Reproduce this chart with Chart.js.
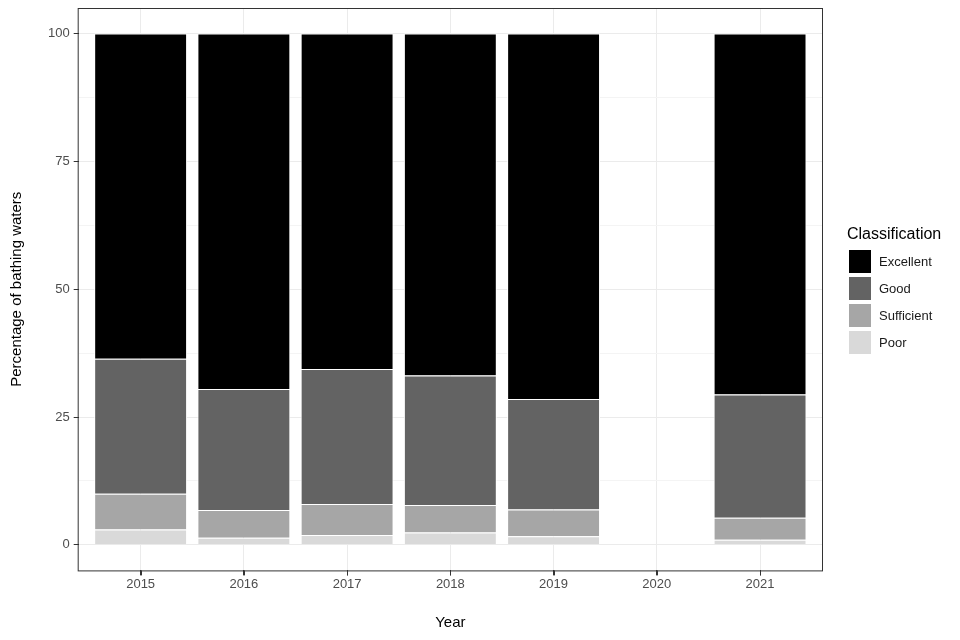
<!DOCTYPE html>
<html>
<head>
<meta charset="utf-8">
<script src="https://cdn.jsdelivr.net/npm/chart.js@4/dist/chart.umd.min.js"></script>
<style>
  html, body { margin: 0; padding: 0; background: #fff; }
  #wrap { width: 960px; height: 640px; }
</style>
</head>
<body>
<div id="wrap"><canvas id="bathingChart" width="960" height="640"></canvas></div>
<script>
// Data (percent of bathing waters per classification; 2020 had no classification)
const years = [2015, 2016, 2017, 2018, 2019, 2020, 2021];
const poor       = [3.0, 1.4, 1.9, 2.4, 1.7, null, 1.0];
const sufficient = [7.0, 5.4, 6.1, 5.4, 5.2, null, 4.3];
const good       = [26.4, 23.7, 26.4, 25.3, 21.6, null, 24.1];
const excellent  = [63.6, 69.5, 65.6, 66.9, 71.5, null, 70.6];
const yMajorTicks = [0, 25, 50, 75, 100];
const yMinorTicks = [12.5, 37.5, 62.5, 87.5];

Chart.defaults.font.family = "'Liberation Sans', Arial, sans-serif";
Chart.defaults.color = '#4d4d4d';

function toPoints(values) {
    return years.map((x, i) => ({ x: x, y: values[i] })).filter(p => p.y !== null);
}

function makeSet(label, values, colour) {
    return {
        label: label,
        data: toPoints(values),
        backgroundColor: colour,
        borderColor: '#ffffff',
        borderWidth: 1,
        borderSkipped: 'start',
        categoryPercentage: 1,
        barPercentage: 0.9
    };
}

// panel border + right-hand legend, ggplot style
const panelAndLegend = {
    id: 'panelAndLegend',
    afterDraw(chart) {
        const ctx = chart.ctx;
        const a = chart.chartArea;
        ctx.save();
        ctx.strokeStyle = '#333333';
        ctx.lineWidth = 1;
        ctx.strokeRect(a.left - 0.5, a.top + 0.5, a.right - a.left + 1, a.bottom - a.top);

        // x tick marks
        const xs = chart.scales.x;
        ctx.beginPath();
        years.forEach(v => {
            const px = Math.round(xs.getPixelForValue(v)) + 0.5;
            ctx.moveTo(px, a.bottom);
            ctx.lineTo(px, a.bottom + 5);
        });
        ctx.stroke();

        ctx.fillStyle = '#000000';
        ctx.font = "16px 'Liberation Sans', Arial, sans-serif";
        ctx.textBaseline = 'middle';
        ctx.textAlign = 'left';
        ctx.fillText('Classification', 847, 235);

        const sets = chart.data.datasets.slice().reverse();
        ctx.font = "13px 'Liberation Sans', Arial, sans-serif";
        sets.forEach((ds, i) => {
            const y = 250 + i * 27;
            ctx.fillStyle = ds.backgroundColor;
            ctx.fillRect(849, y, 22, 23);
            ctx.fillStyle = '#1a1a1a';
            ctx.fillText(ds.label, 879, y + 12);
        });
        ctx.restore();
    }
};

function initChart() {
    const ctx = document.getElementById('bathingChart').getContext('2d');
    new Chart(ctx, {
        type: 'bar',
        data: {
            datasets: [
                makeSet('Poor', poor, '#d9d9d9'),
                makeSet('Sufficient', sufficient, '#a6a6a6'),
                makeSet('Good', good, '#636363'),
                makeSet('Excellent', excellent, '#000000')
            ]
        },
        options: {
            responsive: false,
            animation: false,
            layout: { padding: { top: 8, right: 138, bottom: 4, left: 4 } },
            plugins: { legend: { display: false }, tooltip: { enabled: false } },
            scales: {
                x: {
                    type: 'linear',
                    stacked: true,
                    offset: false,
                    min: years[0] - 0.6,
                    max: years[years.length - 1] + 0.6,
                    afterBuildTicks: scale => { scale.ticks = years.map(v => ({ value: v })); },
                    afterFit: scale => { scale.paddingLeft = 0; scale.paddingRight = 0; },
                    ticks: {
                        callback: v => String(v),
                        font: { size: 13 },
                        color: '#4d4d4d',
                        padding: 1,
                        autoSkip: false,
                        maxRotation: 0
                    },
                    grid: { offset: false, color: '#ebebeb', tickColor: '#333333', tickLength: 5 },
                    border: { display: false },
                    title: {
                        display: true,
                        text: 'Year',
                        color: '#000000',
                        font: { size: 15 },
                        padding: { top: 21, bottom: 4 }
                    }
                },
                y: {
                    stacked: true,
                    min: -5,
                    max: 105,
                    afterBuildTicks: scale => {
                        scale.ticks = yMajorTicks.concat(yMinorTicks).sort((p, q) => p - q).map(v => ({ value: v }));
                    },
                    afterFit: scale => { scale.paddingTop = 0; scale.paddingBottom = 0; },
                    ticks: {
                        callback: v => (yMajorTicks.includes(v) ? String(v) : ''),
                        font: { size: 13 },
                        color: '#4d4d4d',
                        padding: 4,
                        autoSkip: false
                    },
                    grid: {
                        color: c => (yMajorTicks.includes(c.tick.value) ? '#ebebeb' : '#f4f4f4'),
                        tickColor: c => (yMajorTicks.includes(c.tick.value) ? '#333333' : 'rgba(0,0,0,0)'),
                        tickLength: 5
                    },
                    border: { display: false },
                    title: {
                        display: true,
                        text: 'Percentage of bathing waters',
                        color: '#000000',
                        font: { size: 15 },
                        padding: { top: 4, bottom: 18 }
                    }
                }
            }
        },
        plugins: [panelAndLegend]
    });
}

document.addEventListener('DOMContentLoaded', initChart);
</script>
</body>
</html>
